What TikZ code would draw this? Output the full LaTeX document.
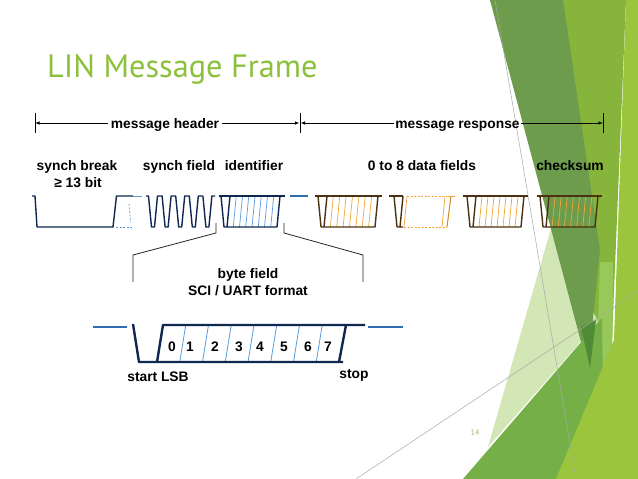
\documentclass[tikz,border=0pt]{standalone}
\usepackage{fontspec}
\setmainfont{Liberation Sans}
\newfontfamily\titlefont{PT Sans}
\usetikzlibrary{arrows.meta}
\definecolor{navyw}{HTML}{0F2850}
\definecolor{lbluew}{HTML}{5A9BE0}
\definecolor{idleblue}{HTML}{2F6DB0}
\definecolor{brownw}{HTML}{4A3212}
\definecolor{orangew}{HTML}{F2A535}
\definecolor{orangedk}{HTML}{D08A20}
\definecolor{titlegreen}{HTML}{8DC03C}
\definecolor{pagegreen}{HTML}{9CC26A}
\definecolor{bgdark}{HTML}{6C9C4C}
\definecolor{bgmed}{HTML}{87B53B}
\definecolor{bgbright}{HTML}{9AC53C}
\definecolor{bgtri}{HTML}{74B047}
\definecolor{bgpale}{HTML}{D3E7B6}
\definecolor{bglight}{HTML}{98C85A}
\definecolor{bgdeep}{HTML}{4F8C35}
\definecolor{thingray}{HTML}{A8A8A8}
\newcommand\lmWaveByte[6]{%
  \draw[#6] \foreach \k in {1,...,7} { ({#2+6+\k*(#3-#2-6)/8},227) -- ++(3,-31) };
  \draw[#5] (#1,196) -- (#4,196);
  \draw[#5] (#2,196) -- ({#2+3},227) -- (#3,227) -- ({#3+3},196);
  \draw[#5] ({#2+6},227) -- ({#2+9},196);
}
\tikzset{
  lbl/.style={font=\fontsize{13.8}{16}\selectfont\bfseries, inner sep=0pt, anchor=base},
  dimlbl/.style={lbl, inner xsep=2.5pt},
  dimline/.style={line width=0.8pt, black},
  dimarrow/.style={line width=0.8pt, black, -{Latex[length=4.5pt,width=3.5pt]}},
  navyline/.style={navyw, line width=1.4pt, line join=round},
  blueline/.style={lbluew, line width=0.7pt},
  brownline/.style={brownw, line width=1.4pt, line join=round},
  orangeline/.style={orangew, line width=0.7pt},
  bignavy/.style={navyw, line width=2.4pt, line join=round},
  idle/.style={idleblue, line width=1.1pt},
  bracket/.style={black!85, line width=0.8pt},
}
\begin{document}
\begin{tikzpicture}[x=1pt,y=-1pt]
\useasboundingbox (0,0) rectangle (638,479);
\fill[white] (0,0) rectangle (638,479);
% ---------- background decoration ----------
\fill[bgmed] (560,0) -- (626,0) -- (612,340) -- (592,372) -- cycle;
\fill[bgpale] (552,225) -- (488,447) -- (598,322) -- cycle;
\fill[bgdark] (490,0) -- (563,0) -- (600,250) -- (588,368) -- cycle;
\fill[bglight] (600,262) -- (613,262) -- (612,410) -- (597,352) -- cycle;
\fill[bgtri] (463,479) -- (602,318) -- (604,479) -- cycle;
\fill[bgdeep] (581,327) -- (596,320) -- (590,368) -- cycle;
\fill[bgbright] (626,0) -- (638,0) -- (638,479) -- (556,479) -- (614,340) -- cycle;
\draw[thingray, line width=0.5pt] (495,0) -- (576,479);
\draw[thingray, line width=0.5pt] (356,479) -- (638,291);
% ---------- title ----------
\node[anchor=base west, inner sep=0pt, font=\titlefont\fontsize{32.3}{38}\selectfont, text=titlegreen] (title) at (47,77) {LIN Message Frame};
\node[font=\titlefont\fontsize{8}{10}\selectfont, text=pagegreen, inner sep=0pt] (page) at (475,433) {14};
% ---------- dimension lines ----------
\coordinate (t1) at (35,123);
\coordinate (t2) at (300,123);
\coordinate (t3) at (603,123);
\draw[dimline] ([yshift=10pt]t1) -- ([yshift=-10pt]t1);
\draw[dimline] ([yshift=10pt]t2) -- ([yshift=-10pt]t2);
\draw[dimline] ([yshift=10pt]t3) -- ([yshift=-10pt]t3);
\node[dimlbl] (mh) at (165,128) {message header};
\node[dimlbl, inner xsep=1pt] (mr) at (457.5,128) {message response};
\draw[dimarrow] (mh.west |- t1) -- (t1);
\draw[dimarrow] (mh.east |- t2) -- ([xshift=-0.5pt]t2);
\draw[dimarrow] (mr.west |- t2) -- ([xshift=0.5pt]t2);
\draw[dimarrow] (mr.east |- t3) -- (t3);
% ---------- field labels ----------
\node[lbl] (sb) at (77,170.5) {synch break};
\node[lbl] (sb2) at (78,187) {≥ 13 bit};
\node[lbl] (sf) at (179,170.5) {synch field};
\node[lbl] (id) at (254,170.5) {identifier};
\node[lbl] (df) at (422,170.5) {0 to 8 data fields};
\node[lbl] (cs) at (570,170.5) {checksum};
% ---------- header waveform ----------
% synch break
\draw[navyline] (32,196) -- (35,196) -- (37,227) -- (113,227) -- (116.5,196) -- (133,196);
\draw[blueline, line width=1pt] (133,196) -- (142,196);
\draw[blueline, dashed, dash pattern=on 2pt off 1.5pt] (116,227) -- (133,227);
\draw[blueline, dashed, dash pattern=on 2pt off 1.5pt] (129,204) -- (130.5,222);
% synch field
\draw[navyline] (146,196) \foreach \j in {0,...,4} { -- ({148.5+13.6*\j},196) -- ({151.5+13.6*\j},227) -- ({154.5+13.6*\j},227) -- ({157.5+13.6*\j},196) } -- (215,196);
% identifier
\lmWaveByte{219}{221}{277}{285}{navyline}{blueline}
% idle
\draw[idle] (290,196) -- (308,196);
% data 1
\lmWaveByte{315}{318}{375}{382}{brownline}{orangeline}
% data 2 (partial)
\draw[orangeline] (404,227) -- (407,196);
\draw[orangeline, dashed, dash pattern=on 2pt off 1.5pt] (407,196) -- (447,196);
\draw[orangeline, dashed, dash pattern=on 2pt off 1.5pt] (404,227) -- (447,227);
\draw[orangeline] (442,227) -- (445,196);
\draw[orangedk, line width=1pt] (447,227) -- (451,196);
\draw[orangeline, line width=1pt] (447,196) -- (455,196);
\draw[brownline] (389,196) -- (403,196);
\draw[brownline] (394,196) -- (397,227) -- (403,227);
\draw[brownline] (400,227) -- (403,196);
% data 3
\lmWaveByte{463}{467}{521}{528}{brownline}{orangeline}
% checksum
\lmWaveByte{537}{540}{595}{602}{brownline}{orangeline}
% ---------- zoom brackets ----------
\draw[bracket] (216,223) -- (216,233) -- (133,255) -- (133,282);
\draw[bracket] (284,223) -- (284,233) -- (363,255) -- (363,282);
\node[lbl] (bf) at (248,278.5) {byte field};
\node[lbl] (sci) at (248,295) {SCI / UART format};
% ---------- byte field ----------
\draw[idle] (93,327) -- (127,327);
\draw[idle] (368,327) -- (403,327);
\foreach \k in {1,...,7} { \draw[lbluew, line width=0.8pt] ({157+22.75*\k},362) -- ++(6,-37); }
\draw[bignavy] (133,324) -- (139,362) -- (343,362);
\draw[bignavy] (157,362) -- (163,325) -- (365,325);
\draw[bignavy] (339,362) -- (346,325);
\foreach \n/\xx in {0/172,1/190,2/215,3/239,4/260,5/284,6/308,7/328} {
  \node[lbl] (bit\n) at (\xx,351) {\n};
}
\node[lbl] (lsb) at (158,381.5) {start LSB};
\node[lbl] (stop) at (354,378) {stop};
\end{tikzpicture}
\end{document}
